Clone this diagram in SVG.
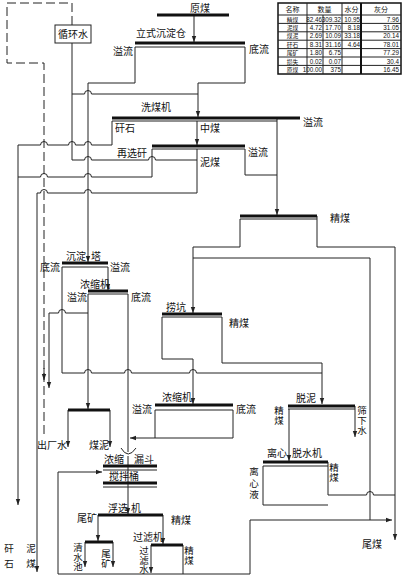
<svg xmlns="http://www.w3.org/2000/svg" width="407" height="581" viewBox="0 0 407 581">
<defs>
<marker id="ah" viewBox="0 0 6 6" refX="6" refY="3" markerWidth="6" markerHeight="6" orient="auto" markerUnits="userSpaceOnUse">
<path d="M0,0.8 L6,3 L0,5.2 Z" fill="#222"/>
</marker>
<style>
.l{fill:none;stroke:#222;stroke-width:1}
.a{fill:none;stroke:#222;stroke-width:1;marker-end:url(#ah)}
.d{fill:none;stroke:#222;stroke-width:1;stroke-dasharray:9 4}
.b{stroke:#111;stroke-width:3}
.n{stroke:#222;stroke-width:1}
.t{font-family:"Noto Sans CJK SC","Noto Sans",sans-serif;font-size:10px;fill:#111}
.v{font-family:"Noto Sans CJK SC","Noto Sans",sans-serif;font-size:9.5px;fill:#111;writing-mode:tb}
.s{font-family:"Liberation Sans",sans-serif;font-size:6.3px;fill:#111}
.c{font-family:"Noto Sans CJK SC",sans-serif;font-size:5.8px;fill:#111}
.h{font-family:"Noto Sans CJK SC",sans-serif;font-size:7px;fill:#111}
</style>
</defs>
<rect width="407" height="581" fill="#fff"/>

<g id="connectors">
<path class="d" d="M72,25 V3 H7 V63 H44 V437"/>
<path class="a" d="M44,368 V380"/>
<path class="a" d="M194,16 V42"/>
<path class="a" d="M135,47 V83 H88 V262"/>
<path class="a" d="M245,47 V83 H198 V117"/>
<path class="l" d="M72,43 V160"/>
<path class="l" d="M72,94 H84.5 a3.5 3.5 0 0 1 7 0 H198"/>
<path class="l" d="M72,160 H84.5 a3.5 3.5 0 0 1 7 0 H148.5 a3.5 3.5 0 0 1 7 0 H197"/>
<path class="a" d="M112,121 V145 H91.5 a3.5 3.5 0 0 0 -7 0 H75.5 a3.5 3.5 0 0 0 -7 0 H47.5 a3.5 3.5 0 0 0 -7 0 H18 V505"/>
<path class="a" d="M197,121 V145"/>
<path class="l" d="M152,149 V177 H91.5 a3.5 3.5 0 0 0 -7 0 H47.5 a3.5 3.5 0 0 0 -7 0 H18"/>
<path class="a" d="M197,149 V193 H91.5 a3.5 3.5 0 0 0 -7 0 H47.5 a3.5 3.5 0 0 0 -7 0 H37 V572"/>
<path class="l" d="M245,149 V175 H277"/>
<path class="a" d="M277,118 V215"/>
<path class="a" d="M240,219 V247 H193 V313"/>
<path class="a" d="M317,216 V247 H395 V540"/>
<path class="l" d="M193,258 H370 V520"/>
<path class="a" d="M108,267 V290"/>
<path class="l" d="M62,267 V373 H84.5 a3.5 3.5 0 0 1 7 0 H124.5 a3.5 3.5 0 0 1 7 0 H189.5 a3.5 3.5 0 0 1 7 0 H322"/>
<path class="a" d="M322,363 V404"/>
<path class="a" d="M162,317 V359 H193 V404"/>
<path class="l" d="M222,317 V363 H322"/>
<path class="a" d="M88,294 V409"/>
<path class="a" d="M88,313 H65.5 a3.5 3.5 0 0 0 -7 0 H49 V388"/>
<path class="l" d="M128,294 V452"/>
<path class="a" d="M68,410 V447"/>
<path class="a" d="M110,410 V447"/>
<path class="l" d="M121,448 Q128,460 136,448"/>
<path class="a" d="M233,410 V438 H130"/>
<path class="l" d="M155,410 V438"/>
<path class="a" d="M128,456 V514"/>
<path class="a" d="M250,520 V574 H58 V472 H102"/>
<path class="a" d="M250,520 H392"/>
<path class="a" d="M98,515 V541"/>
<path class="a" d="M163,515 V544"/>
<path class="a" d="M85,542 V567"/>
<path class="a" d="M113,542 V567"/>
<path class="a" d="M151,545 V573"/>
<path class="l" d="M183,545 V574"/>
<path class="a" d="M289,409 V461"/>
<path class="a" d="M355,406 V437"/>
<path class="l" d="M328,462 V495 H366.5 a3.5 3.5 0 0 1 7 0 H395"/>
<path class="l" d="M263,466 V505 H328"/>
</g>

<g id="n-yuanmei"><line class="b" x1="157" y1="15" x2="229" y2="15"/><text class="t" x="200" y="12" text-anchor="middle">原煤</text></g>

<g id="n-chendiancang"><line class="b" x1="135" y1="43" x2="245" y2="43"/><line class="n" x1="135" y1="47" x2="245" y2="47"/>
<text class="t" x="136" y="37">立式沉淀仓</text><text class="t" x="113" y="55">溢流</text><text class="t" x="249" y="53">底流</text></g>

<g id="n-xunhuanshui"><rect x="55" y="25" width="36" height="18" fill="#fff" stroke="#222"/><text class="t" x="73" y="38" text-anchor="middle">循环水</text></g>

<g id="n-ximeiji"><line class="b" x1="112" y1="118" x2="300" y2="118"/><line class="n" x1="112" y1="121" x2="277" y2="121"/>
<text class="t" x="141" y="111">洗煤机</text><text class="t" x="115" y="132">矸石</text><text class="t" x="200" y="132">中煤</text><text class="t" x="303" y="126">溢流</text></g>

<g id="n-zaixuan"><line class="b" x1="152" y1="146" x2="245" y2="146"/><line class="n" x1="152" y1="149" x2="245" y2="149"/>
<text class="t" x="117" y="157">再选矸</text><text class="t" x="200" y="166">泥煤</text><text class="t" x="248" y="156">溢流</text></g>

<g id="n-jingmei1"><line class="b" x1="240" y1="216" x2="317" y2="216"/><line class="n" x1="240" y1="219" x2="317" y2="219"/>
<text class="t" x="330" y="222">精煤</text></g>

<g id="n-chendianta"><line class="b" x1="62" y1="263" x2="108" y2="263"/><line class="n" x1="62" y1="267" x2="108" y2="267"/>
<text class="t" x="66" y="260">沉淀</text><text class="t" x="91" y="260">塔</text><text class="t" x="40" y="271">底流</text><text class="t" x="110" y="271">溢流</text></g>

<g id="n-nongsuo1"><line class="b" x1="88" y1="291" x2="128" y2="291"/><line class="n" x1="88" y1="294" x2="128" y2="294"/>
<text class="t" x="80" y="288">浓缩机</text><text class="t" x="67" y="301">溢流</text><text class="t" x="131" y="301">底流</text></g>

<g id="n-laokeng"><line class="b" x1="162" y1="314" x2="222" y2="314"/><line class="n" x1="162" y1="317" x2="222" y2="317"/>
<text class="t" x="166" y="311">捞坑</text><text class="t" x="229" y="327">精煤</text></g>

<g id="n-nongsuo2"><line class="b" x1="155" y1="405" x2="233" y2="405"/><line class="n" x1="155" y1="410" x2="233" y2="410"/>
<text class="t" x="162" y="401">浓缩机</text><text class="t" x="132" y="413">溢流</text><text class="t" x="236" y="413">底流</text></g>

<g id="n-tuoni"><line class="b" x1="288" y1="406" x2="355" y2="406"/><line class="n" x1="288" y1="409" x2="355" y2="409"/>
<text class="t" x="296" y="402">脱泥</text>
<text class="v" x="279" y="406">精煤</text>
<text class="v" x="362" y="406" letter-spacing="0.5">筛下水</text></g>

<g id="n-chendianchi"><line class="b" x1="68" y1="410" x2="110" y2="410"/>
<text class="t" x="37" y="449">出厂水</text><text class="t" x="89" y="449">煤泥</text></g>

<g id="n-louddou"><line class="b" x1="103" y1="466" x2="157" y2="466"/><line class="n" x1="103" y1="470" x2="157" y2="470"/>
<text class="t" x="104" y="463">浓缩</text><text class="t" x="134" y="463">漏斗</text>
<text class="t" x="109" y="480">搅拌桶</text>
<line class="b" x1="103" y1="483" x2="157" y2="483"/><line class="n" x1="103" y1="487" x2="157" y2="487"/></g>

<g id="n-fuxuanji"><line class="b" x1="98" y1="515" x2="163" y2="515"/>
<text class="t" x="108" y="512">浮选</text><text class="t" x="131" y="512">机</text><text class="t" x="77" y="522">尾矿</text><text class="t" x="171" y="524">精煤</text></g>

<g id="n-qingshuichi"><line class="b" x1="85" y1="542" x2="113" y2="542"/>
<text class="v" x="78" y="543">清水池</text>
<text class="v" x="106" y="549">尾矿</text></g>

<g id="n-guolvji"><line class="b" x1="151" y1="545" x2="183" y2="545"/>
<text class="t" x="133" y="541">过滤机</text>
<text class="v" x="144" y="546">过滤水</text>
<text class="v" x="189" y="546">精煤</text></g>

<g id="n-lixin"><line class="b" x1="263" y1="462" x2="328" y2="462"/><line class="n" x1="263" y1="466" x2="328" y2="466"/>
<text class="t" x="267" y="457">离心</text><text class="t" x="292" y="457">脱水机</text>
<text class="v" x="334" y="463">精煤</text>
<text class="v" x="254" y="467" letter-spacing="2">离心液</text></g>

<g id="n-products">
<text class="v" x="9" y="544" letter-spacing="5">矸石</text>
<text class="v" x="31" y="544" letter-spacing="5">泥煤</text>
<text class="t" x="362" y="548">尾煤</text>
</g>

<g id="n-table">
<rect x="278" y="3" width="123" height="71" fill="none" stroke="#111" stroke-width="1.5"/>
<line class="n" x1="278" y1="15" x2="401" y2="15"/>
<line class="n" x1="278" y1="23.4" x2="401" y2="23.4"/>
<line class="n" x1="278" y1="31.8" x2="401" y2="31.8"/>
<line class="n" x1="278" y1="40.2" x2="401" y2="40.2"/>
<line class="n" x1="278" y1="48.6" x2="401" y2="48.6"/>
<line class="n" x1="278" y1="57" x2="401" y2="57"/>
<line class="n" x1="278" y1="65.4" x2="401" y2="65.4"/>
<line class="n" x1="307" y1="3" x2="307" y2="74"/>
<line class="n" x1="323" y1="15" x2="323" y2="74"/>
<line class="n" x1="342" y1="3" x2="342" y2="74"/>
<line stroke="#111" stroke-width="2" x1="361" y1="3" x2="361" y2="74"/>
<text class="h" x="292.5" y="12" text-anchor="middle">名称</text>
<text class="h" x="324.5" y="12" text-anchor="middle">数量</text>
<text class="h" x="351.5" y="12" text-anchor="middle">水分</text>
<text class="h" x="381" y="12" text-anchor="middle">灰分</text>
<g class="c" text-anchor="middle">
<text x="292.5" y="21.5">精煤</text><text x="292.5" y="29.9">泥煤</text><text x="292.5" y="38.3">煤泥</text><text x="292.5" y="46.7">矸石</text><text x="292.5" y="55.1">尾矿</text><text x="292.5" y="63.5">损失</text><text x="292.5" y="71.9">原煤</text>
</g>
<g class="s" text-anchor="end">
<text x="322" y="21.6">82.46</text><text x="341" y="21.6">309.32</text><text x="360" y="21.6">10.95</text><text x="399" y="21.6">7.96</text>
<text x="322" y="30">4.72</text><text x="341" y="30">17.70</text><text x="360" y="30">8.18</text><text x="399" y="30">31.05</text>
<text x="322" y="38.4">2.69</text><text x="341" y="38.4">10.09</text><text x="360" y="38.4">33.18</text><text x="399" y="38.4">20.14</text>
<text x="322" y="46.8">8.31</text><text x="341" y="46.8">31.16</text><text x="360" y="46.8">4.64</text><text x="399" y="46.8">78.01</text>
<text x="322" y="55.2">1.80</text><text x="341" y="55.2">6.75</text><text x="399" y="55.2">77.29</text>
<text x="322" y="63.6">0.02</text><text x="341" y="63.6">0.07</text><text x="399" y="63.6">30.4</text>
<text x="322" y="72">100.00</text><text x="341" y="72">375</text><text x="399" y="72">16.45</text>
</g>
</g>
</svg>
